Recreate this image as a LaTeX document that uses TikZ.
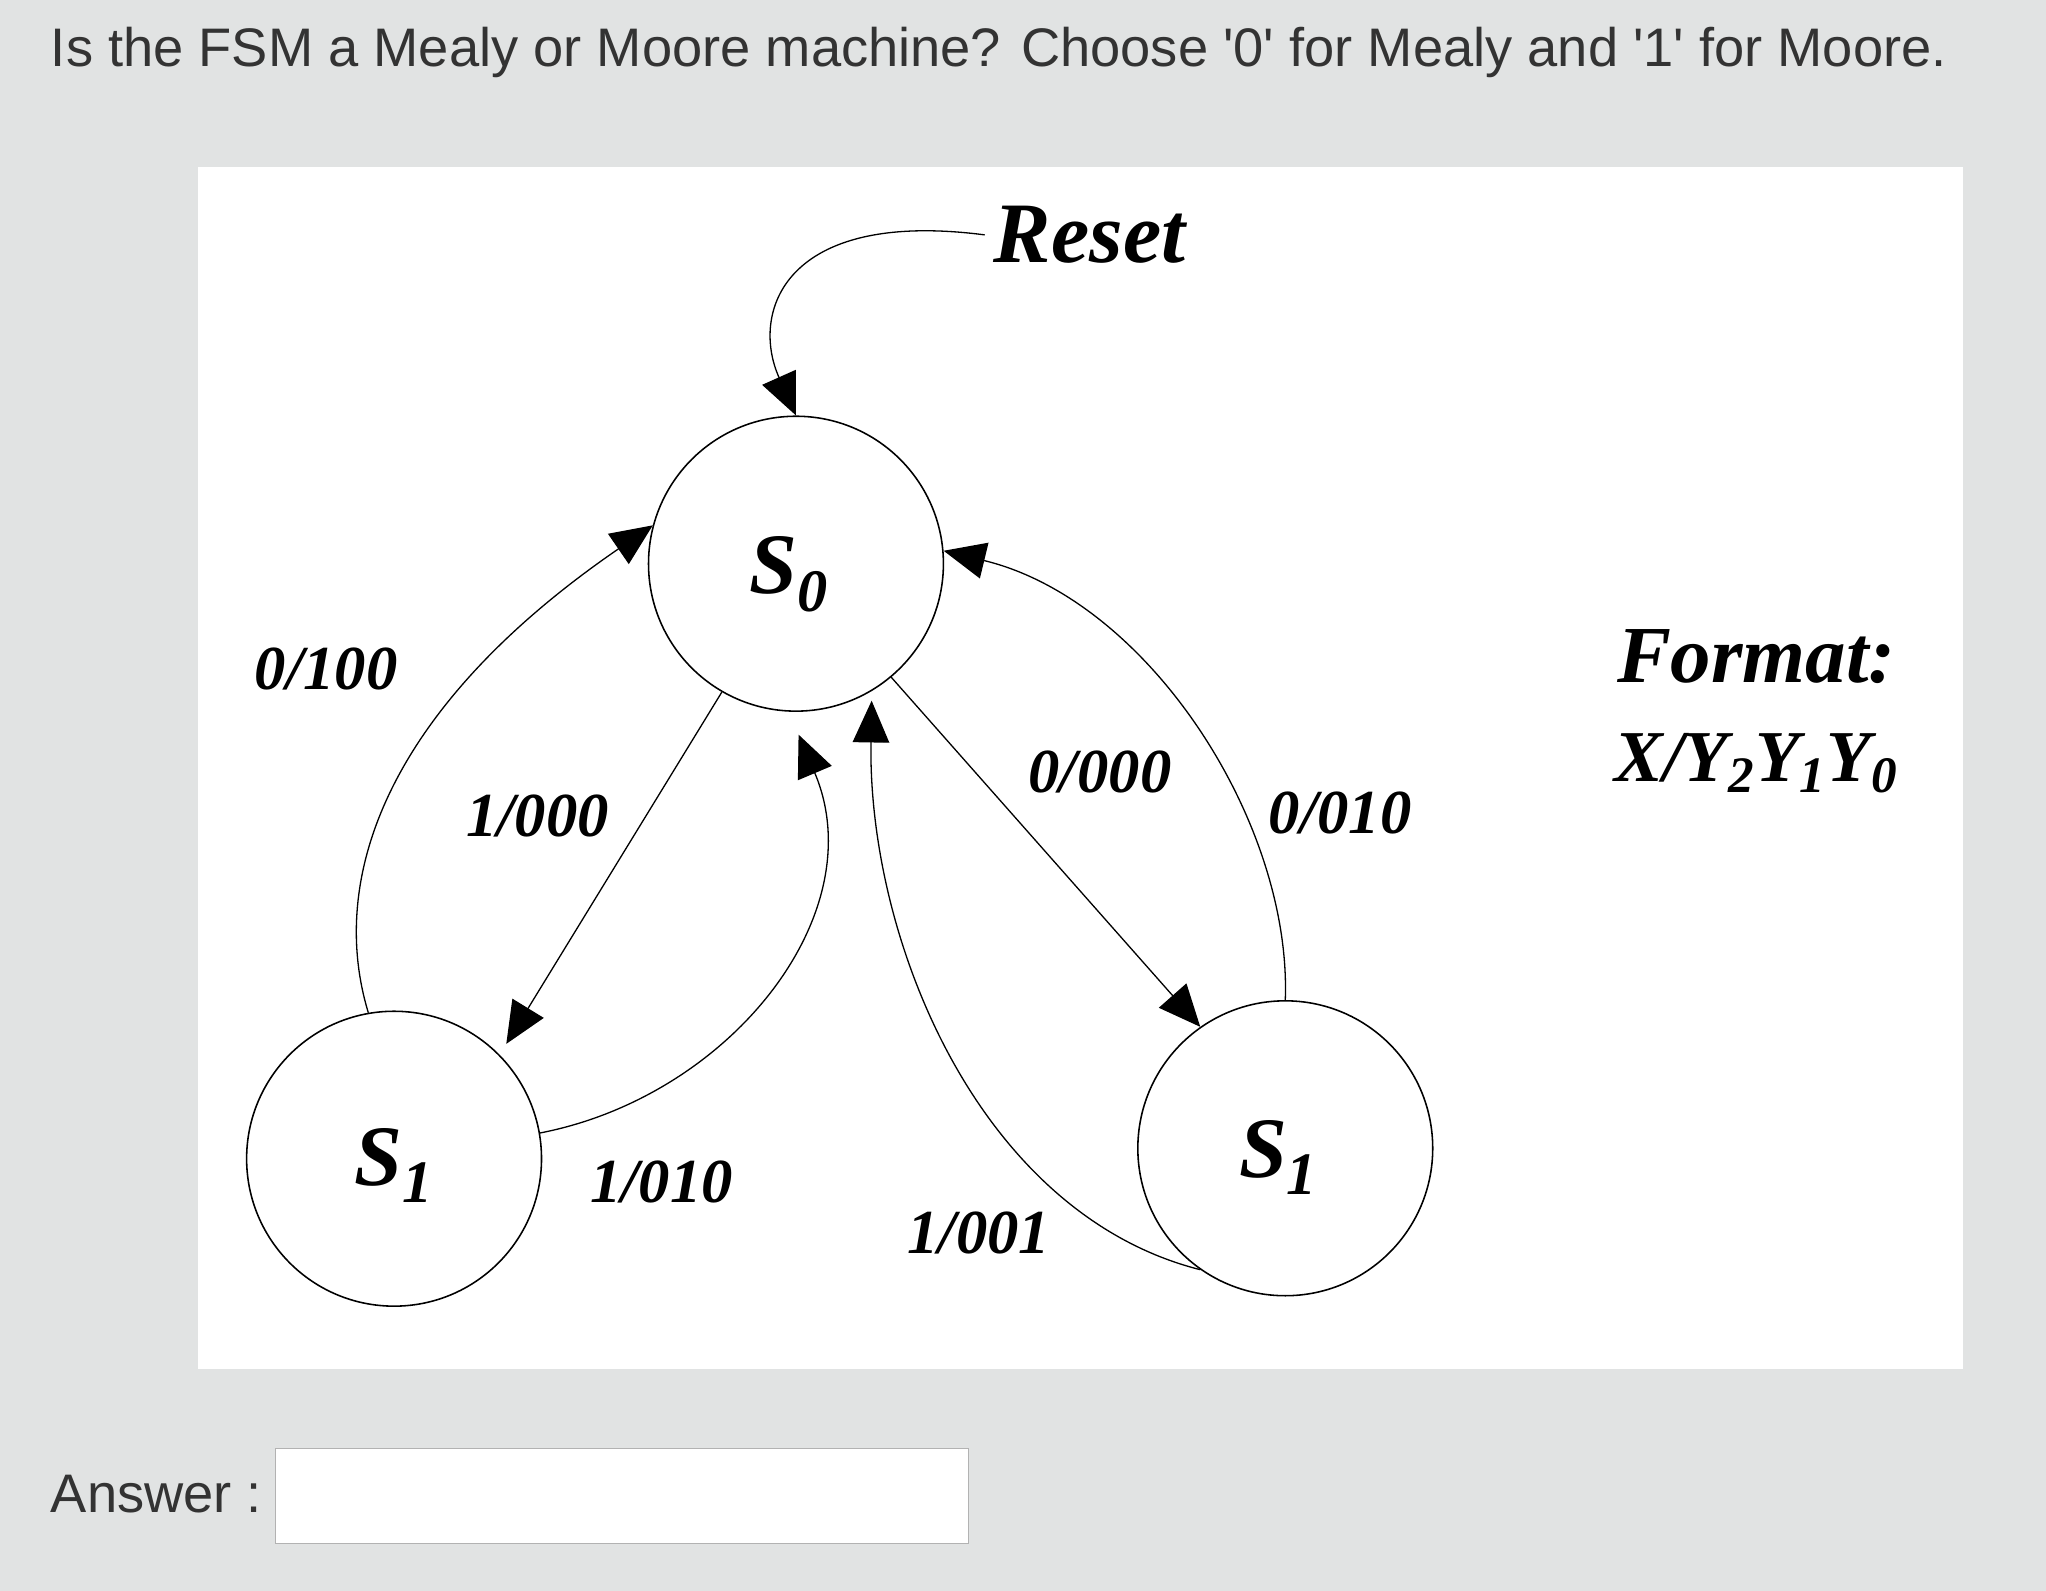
\documentclass[tikz,border=0pt]{standalone}
\usepackage{fontspec}
\setmainfont{Liberation Serif}
\newfontfamily\uisans{Liberation Sans}
\usetikzlibrary{arrows.meta}
\definecolor{bg}{HTML}{E1E3E3}
\begin{document}
\begin{tikzpicture}[x=0.5pt,y=-0.5pt,
  st/.style={draw,circle,minimum size=113pt,inner sep=0pt,line width=0.6pt},
  ed/.style={line width=0.5pt,-{Triangle[length=16pt,width=14pt]}},
  lb/.style={font=\fontsize{24pt}{28pt}\selectfont\bfseries\itshape},
  sl/.style={font=\fontsize{33pt}{36pt}\selectfont\bfseries\itshape}]
\fill[bg] (0,0) rectangle (1568,1219);
\useasboundingbox (0,0) rectangle (1568,1219);
\node[anchor=west,font=\uisans\fontsize{20.8pt}{24pt}\selectfont,text=black!80] (title) at (32,40) {Is the FSM a Mealy or Moore machine? Choose '0' for Mealy and '1' for Moore.};
\fill[white] (152,128) rectangle (1504,1049);
\node[st] (s0) at (610,432) {};
\node[st] (s1l) at (302,888) {};
\node[st] (s1r) at (985,880) {};
\coordinate (t1) at (388,800);
\node[sl] at (605,440) {S\textsubscript{0}};
\node[sl] at (302,893) {S\textsubscript{1}};
\node[sl] at (980,887) {S\textsubscript{1}};
\node[font=\fontsize{33pt}{36pt}\selectfont\bfseries\itshape] (reset) at (835,180) {Reset};
\draw[ed] (reset.west) .. controls (600,160) and (575,240) .. (s0.north);
\draw[ed] (s1l.100) .. controls (250,670) and (300,540) .. (s0.165);
\draw[ed] (s0.240) -- (t1);
\draw[ed] (s1l.10) .. controls (560,840) and (670,700) .. (612,563);
\draw[ed] (s0.-50) -- (s1r.125);
\draw[ed] (s1r.90) .. controls (990,630) and (880,460) .. (s0.5);
\draw[ed] (s1r.-125) .. controls (750,930) and (665,720) .. (668,537);
\node[lb] at (250,513) {0/100};
\node[lb] at (412,625) {1/000};
\node[lb] at (843,592) {0/000};
\node[lb] at (1027,623) {0/010};
\node[lb] at (507,906) {1/010};
\node[lb] at (750,945) {1/001};
\node[font=\fontsize{31pt}{34pt}\selectfont\bfseries\itshape] at (1346,503) {Format:};
\node[font=\fontsize{28pt}{32pt}\selectfont\bfseries\itshape] at (1346,585) {X/Y\textsubscript{2}Y\textsubscript{1}Y\textsubscript{0}};
\node[anchor=west,font=\uisans\fontsize{20.8pt}{24pt}\selectfont,text=black!80] (ans) at (32,1145) {Answer :};
\draw[fill=white,draw=black!30] (211,1110) rectangle (742,1183);
\end{tikzpicture}
\end{document}
